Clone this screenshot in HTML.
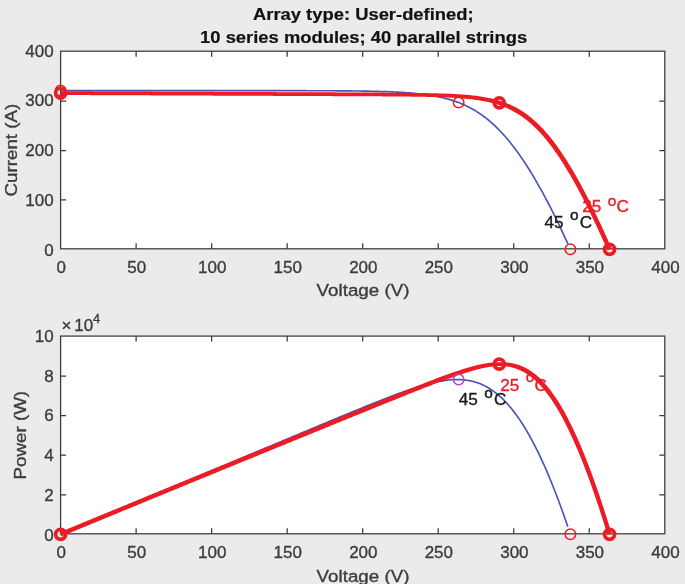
<!DOCTYPE html>
<html><head><meta charset="utf-8"><title>Array I-V and P-V characteristics</title>
<style>html,body{margin:0;padding:0;background:#ebebeb;}svg{display:block;font-family:"Liberation Sans",sans-serif;}text{stroke-width:0.35px;stroke-linejoin:round}.n{stroke:#3c3c3c}.b{stroke:#1a1a1a;stroke-width:0.2px}</style>
</head><body>
<svg width="685" height="584" viewBox="0 0 685 584">
<rect x="0" y="0" width="685" height="584" fill="#ebebeb"/>
<text class="b" transform="translate(363.30,19.70) scale(1.082,1)" font-size="17.0" text-anchor="middle" fill="#111" font-weight="bold">Array type: User-defined;</text>
<text class="b" transform="translate(363.60,42.90) scale(1.082,1)" font-size="17.0" text-anchor="middle" fill="#111" font-weight="bold">10 series modules; 40 parallel strings</text>
<rect x="60.6" y="51.2" width="604.20" height="197.60" fill="#fff" stroke="#3a3a3a" stroke-width="1.25"/>
<path d="M136.12,248.8v-5.5M136.12,51.2v5.5M211.65,248.8v-5.5M211.65,51.2v5.5M287.17,248.8v-5.5M287.17,51.2v5.5M362.70,248.8v-5.5M362.70,51.2v5.5M438.22,248.8v-5.5M438.22,51.2v5.5M513.75,248.8v-5.5M513.75,51.2v5.5M589.27,248.8v-5.5M589.27,51.2v5.5M60.6,199.90h5.5M664.8,199.90h-5.5M60.6,150.50h5.5M664.8,150.50h-5.5M60.6,101.10h5.5M664.8,101.10h-5.5" stroke="#3a3a3a" stroke-width="1.25" fill="none"/>
<text class="n" transform="translate(61.20,273.00) scale(1.02,1)" font-size="16.67" text-anchor="middle" fill="#3c3c3c">0</text>
<text class="n" transform="translate(136.72,273.00) scale(1.02,1)" font-size="16.67" text-anchor="middle" fill="#3c3c3c">50</text>
<text class="n" transform="translate(212.25,273.00) scale(1.02,1)" font-size="16.67" text-anchor="middle" fill="#3c3c3c">100</text>
<text class="n" transform="translate(287.77,273.00) scale(1.02,1)" font-size="16.67" text-anchor="middle" fill="#3c3c3c">150</text>
<text class="n" transform="translate(363.30,273.00) scale(1.02,1)" font-size="16.67" text-anchor="middle" fill="#3c3c3c">200</text>
<text class="n" transform="translate(438.82,273.00) scale(1.02,1)" font-size="16.67" text-anchor="middle" fill="#3c3c3c">250</text>
<text class="n" transform="translate(514.35,273.00) scale(1.02,1)" font-size="16.67" text-anchor="middle" fill="#3c3c3c">300</text>
<text class="n" transform="translate(589.88,273.00) scale(1.02,1)" font-size="16.67" text-anchor="middle" fill="#3c3c3c">350</text>
<text class="n" transform="translate(665.40,273.00) scale(1.02,1)" font-size="16.67" text-anchor="middle" fill="#3c3c3c">400</text>
<text class="n" transform="translate(53.70,255.60) scale(1.02,1)" font-size="16.67" text-anchor="end" fill="#3c3c3c">0</text>
<text class="n" transform="translate(53.70,206.20) scale(1.02,1)" font-size="16.67" text-anchor="end" fill="#3c3c3c">100</text>
<text class="n" transform="translate(53.70,156.10) scale(1.02,1)" font-size="16.67" text-anchor="end" fill="#3c3c3c">200</text>
<text class="n" transform="translate(53.70,106.10) scale(1.02,1)" font-size="16.67" text-anchor="end" fill="#3c3c3c">300</text>
<text class="n" transform="translate(53.70,57.00) scale(1.02,1)" font-size="16.67" text-anchor="end" fill="#3c3c3c">400</text>
<text class="n" transform="translate(363.00,296.30) scale(1.138,1)" font-size="16.5" text-anchor="middle" fill="#3c3c3c">Voltage (V)</text>
<text transform="translate(16.7,150.1) rotate(-90) scale(1.138,1)" class="n" font-size="16.5" text-anchor="middle" fill="#3c3c3c">Current (A)</text>
<path d="M60.60,90.54 L61.88,90.54 L63.16,90.54 L64.43,90.54 L65.71,90.54 L66.99,90.54 L68.27,90.54 L69.54,90.54 L70.82,90.54 L72.10,90.54 L73.38,90.54 L74.65,90.54 L75.93,90.55 L77.21,90.55 L78.49,90.55 L79.76,90.55 L81.04,90.55 L82.32,90.55 L83.60,90.55 L84.87,90.55 L86.15,90.55 L87.43,90.55 L88.71,90.55 L89.98,90.55 L91.26,90.55 L92.54,90.55 L93.82,90.55 L95.10,90.55 L96.37,90.55 L97.65,90.55 L98.93,90.56 L100.21,90.56 L101.48,90.56 L102.76,90.56 L104.04,90.56 L105.32,90.56 L106.59,90.56 L107.87,90.56 L109.15,90.56 L110.43,90.56 L111.70,90.56 L112.98,90.56 L114.26,90.56 L115.54,90.56 L116.81,90.56 L118.09,90.56 L119.37,90.56 L120.65,90.56 L121.93,90.56 L123.20,90.57 L124.48,90.57 L125.76,90.57 L127.04,90.57 L128.31,90.57 L129.59,90.57 L130.87,90.57 L132.15,90.57 L133.42,90.57 L134.70,90.57 L135.98,90.57 L137.26,90.57 L138.53,90.57 L139.81,90.57 L141.09,90.57 L142.37,90.57 L143.64,90.57 L144.92,90.57 L146.20,90.57 L147.48,90.58 L148.75,90.58 L150.03,90.58 L151.31,90.58 L152.59,90.58 L153.87,90.58 L155.14,90.58 L156.42,90.58 L157.70,90.58 L158.98,90.58 L160.25,90.58 L161.53,90.58 L162.81,90.58 L164.09,90.58 L165.36,90.58 L166.64,90.58 L167.92,90.58 L169.20,90.58 L170.47,90.59 L171.75,90.59 L173.03,90.59 L174.31,90.59 L175.58,90.59 L176.86,90.59 L178.14,90.59 L179.42,90.59 L180.70,90.59 L181.97,90.59 L183.25,90.59 L184.53,90.59 L185.81,90.59 L187.08,90.59 L188.36,90.59 L189.64,90.59 L190.92,90.59 L192.19,90.59 L193.47,90.60 L194.75,90.60 L196.03,90.60 L197.30,90.60 L198.58,90.60 L199.86,90.60 L201.14,90.60 L202.41,90.60 L203.69,90.60 L204.97,90.60 L206.25,90.60 L207.52,90.60 L208.80,90.60 L210.08,90.60 L211.36,90.60 L212.64,90.60 L213.91,90.60 L215.19,90.61 L216.47,90.61 L217.75,90.61 L219.02,90.61 L220.30,90.61 L221.58,90.61 L222.86,90.61 L224.13,90.61 L225.41,90.61 L226.69,90.61 L227.97,90.61 L229.24,90.61 L230.52,90.61 L231.80,90.61 L233.08,90.61 L234.35,90.62 L235.63,90.62 L236.91,90.62 L238.19,90.62 L239.47,90.62 L240.74,90.62 L242.02,90.62 L243.30,90.62 L244.58,90.62 L245.85,90.62 L247.13,90.62 L248.41,90.62 L249.69,90.62 L250.96,90.63 L252.24,90.63 L253.52,90.63 L254.80,90.63 L256.07,90.63 L257.35,90.63 L258.63,90.63 L259.91,90.63 L261.18,90.63 L262.46,90.63 L263.74,90.63 L265.02,90.64 L266.29,90.64 L267.57,90.64 L268.85,90.64 L270.13,90.64 L271.41,90.64 L272.68,90.64 L273.96,90.64 L275.24,90.65 L276.52,90.65 L277.79,90.65 L279.07,90.65 L280.35,90.65 L281.63,90.65 L282.90,90.65 L284.18,90.66 L285.46,90.66 L286.74,90.66 L288.01,90.66 L289.29,90.66 L290.57,90.67 L291.85,90.67 L293.12,90.67 L294.40,90.67 L295.68,90.67 L296.96,90.68 L298.23,90.68 L299.51,90.68 L300.79,90.68 L302.07,90.69 L303.35,90.69 L304.62,90.69 L305.90,90.69 L307.18,90.70 L308.46,90.70 L309.73,90.70 L311.01,90.71 L312.29,90.71 L313.57,90.71 L314.84,90.72 L316.12,90.72 L317.40,90.73 L318.68,90.73 L319.95,90.74 L321.23,90.74 L322.51,90.75 L323.79,90.75 L325.06,90.76 L326.34,90.76 L327.62,90.77 L328.90,90.77 L330.18,90.78 L331.45,90.79 L332.73,90.79 L334.01,90.80 L335.29,90.81 L336.56,90.82 L337.84,90.82 L339.12,90.83 L340.40,90.84 L341.67,90.85 L342.95,90.86 L344.23,90.87 L345.51,90.88 L346.78,90.89 L348.06,90.90 L349.34,90.92 L350.62,90.93 L351.89,90.94 L353.17,90.96 L354.45,90.97 L355.73,90.98 L357.00,91.00 L358.28,91.02 L359.56,91.03 L360.84,91.05 L362.12,91.07 L363.39,91.09 L364.67,91.11 L365.95,91.13 L367.23,91.16 L368.50,91.18 L369.78,91.20 L371.06,91.23 L372.34,91.26 L373.61,91.28 L374.89,91.31 L376.17,91.34 L377.45,91.38 L378.72,91.41 L380.00,91.45 L381.28,91.48 L382.56,91.52 L383.83,91.56 L385.11,91.60 L386.39,91.65 L387.67,91.69 L388.95,91.74 L390.22,91.79 L391.50,91.85 L392.78,91.90 L394.06,91.96 L395.33,92.02 L396.61,92.08 L397.89,92.15 L399.17,92.22 L400.44,92.29 L401.72,92.36 L403.00,92.44 L404.28,92.52 L405.55,92.61 L406.83,92.70 L408.11,92.79 L409.39,92.89 L410.66,93.00 L411.94,93.10 L413.22,93.21 L414.50,93.33 L415.77,93.45 L417.05,93.58 L418.33,93.71 L419.61,93.85 L420.89,94.00 L422.16,94.15 L423.44,94.31 L424.72,94.48 L426.00,94.65 L427.27,94.83 L428.55,95.02 L429.83,95.21 L431.11,95.42 L432.38,95.63 L433.66,95.85 L434.94,96.09 L436.22,96.33 L437.49,96.58 L438.77,96.84 L440.05,97.12 L441.33,97.40 L442.60,97.70 L443.88,98.01 L445.16,98.33 L446.44,98.66 L447.72,99.01 L448.99,99.38 L450.27,99.75 L451.55,100.14 L452.83,100.55 L454.10,100.97 L455.38,101.41 L456.66,101.87 L457.94,102.34 L459.21,102.84 L460.49,103.35 L461.77,103.88 L463.05,104.42 L464.32,104.99 L465.60,105.58 L466.88,106.19 L468.16,106.82 L469.43,107.48 L470.71,108.15 L471.99,108.85 L473.27,109.58 L474.54,110.32 L475.82,111.09 L477.10,111.89 L478.38,112.71 L479.66,113.56 L480.93,114.44 L482.21,115.34 L483.49,116.27 L484.77,117.22 L486.04,118.21 L487.32,119.22 L488.60,120.26 L489.88,121.33 L491.15,122.44 L492.43,123.57 L493.71,124.73 L494.99,125.92 L496.26,127.14 L497.54,128.39 L498.82,129.68 L500.10,130.99 L501.37,132.34 L502.65,133.72 L503.93,135.13 L505.21,136.57 L506.48,138.04 L507.76,139.55 L509.04,141.08 L510.32,142.65 L511.60,144.25 L512.87,145.89 L514.15,147.55 L515.43,149.25 L516.71,150.98 L517.98,152.74 L519.26,154.53 L520.54,156.35 L521.82,158.21 L523.09,160.09 L524.37,162.01 L525.65,163.95 L526.93,165.93 L528.20,167.94 L529.48,169.97 L530.76,172.04 L532.04,174.14 L533.31,176.27 L534.59,178.42 L535.87,180.60 L537.15,182.82 L538.43,185.06 L539.70,187.32 L540.98,189.62 L542.26,191.94 L543.54,194.29 L544.81,196.67 L546.09,199.07 L547.37,201.50 L548.65,203.96 L549.92,206.44 L551.20,208.94 L552.48,211.47 L553.76,214.03 L555.03,216.60 L556.31,219.21 L557.59,221.83 L558.87,224.48 L560.14,227.15 L561.42,229.84 L562.70,232.56 L563.98,235.30 L565.25,238.06 L566.53,240.84 L567.81,243.64" stroke="#4a54b6" stroke-width="1.65" fill="none" stroke-linejoin="round"/>
<path d="M60.59,95.00 L61.97,95.01 L63.34,95.01 L64.72,95.02 L66.10,95.03 L67.47,95.03 L68.85,95.04 L70.22,95.04 L71.60,95.05 L72.97,95.05 L74.35,95.06 L75.73,95.07 L77.10,95.07 L78.48,95.08 L79.85,95.08 L81.23,95.09 L82.61,95.09 L83.98,95.10 L85.36,95.10 L86.73,95.11 L88.11,95.12 L89.48,95.12 L90.86,95.13 L92.24,95.13 L93.61,95.14 L94.99,95.14 L96.36,95.15 L97.74,95.16 L99.12,95.16 L100.49,95.17 L101.87,95.17 L103.24,95.18 L104.62,95.18 L105.99,95.19 L107.37,95.20 L108.75,95.20 L110.12,95.21 L111.50,95.21 L112.87,95.22 L114.25,95.22 L115.63,95.23 L117.00,95.23 L118.38,95.24 L119.75,95.25 L121.13,95.25 L122.50,95.26 L123.88,95.26 L125.26,95.27 L126.63,95.27 L128.01,95.28 L129.38,95.29 L130.76,95.29 L132.14,95.30 L133.51,95.30 L134.89,95.31 L136.26,95.31 L137.64,95.32 L139.01,95.33 L140.39,95.33 L141.77,95.34 L143.14,95.34 L144.52,95.35 L145.89,95.35 L147.27,95.36 L148.65,95.36 L150.02,95.37 L151.40,95.38 L152.77,95.38 L154.15,95.39 L155.52,95.39 L156.90,95.40 L158.28,95.40 L159.65,95.41 L161.03,95.42 L162.40,95.42 L163.78,95.43 L165.16,95.43 L166.53,95.44 L167.91,95.44 L169.28,95.45 L170.66,95.46 L172.03,95.46 L173.41,95.47 L174.79,95.47 L176.16,95.48 L177.54,95.48 L178.91,95.49 L180.29,95.49 L181.67,95.50 L183.04,95.51 L184.42,95.51 L185.79,95.52 L187.17,95.52 L188.54,95.53 L189.92,95.53 L191.30,95.54 L192.67,95.55 L194.05,95.55 L195.42,95.56 L196.80,95.56 L198.18,95.57 L199.55,95.57 L200.93,95.58 L202.30,95.59 L203.68,95.59 L205.05,95.60 L206.43,95.60 L207.81,95.61 L209.18,95.61 L210.56,95.62 L211.93,95.62 L213.31,95.63 L214.69,95.64 L216.06,95.64 L217.44,95.65 L218.81,95.65 L220.19,95.66 L221.56,95.66 L222.94,95.67 L224.32,95.68 L225.69,95.68 L227.07,95.69 L228.44,95.69 L229.82,95.70 L231.19,95.70 L232.57,95.71 L233.95,95.72 L235.32,95.72 L236.70,95.73 L238.07,95.73 L239.45,95.74 L240.83,95.74 L242.20,95.75 L243.58,95.75 L244.95,95.76 L246.33,95.77 L247.70,95.77 L249.08,95.78 L250.46,95.78 L251.83,95.79 L253.21,95.79 L254.58,95.80 L255.96,95.81 L257.34,95.81 L258.71,95.82 L260.09,95.82 L261.46,95.83 L262.84,95.83 L264.21,95.84 L265.59,95.85 L266.97,95.85 L268.34,95.86 L269.72,95.86 L271.09,95.87 L272.47,95.87 L273.85,95.88 L275.22,95.89 L276.60,95.89 L277.97,95.90 L279.35,95.90 L280.72,95.91 L282.10,95.91 L283.48,95.92 L284.85,95.92 L286.23,95.93 L287.60,95.94 L288.98,95.94 L290.36,95.95 L291.73,95.95 L293.11,95.96 L294.48,95.96 L295.86,95.97 L297.23,95.98 L298.61,95.98 L299.99,95.99 L301.36,95.99 L302.74,96.00 L304.11,96.00 L305.49,96.01 L306.87,96.02 L308.24,96.02 L309.62,96.03 L310.99,96.03 L312.37,96.04 L313.74,96.05 L315.12,96.05 L316.50,96.06 L317.87,96.06 L319.25,96.07 L320.62,96.07 L322.00,96.08 L323.38,96.09 L324.75,96.09 L326.13,96.10 L327.50,96.10 L328.88,96.11 L330.25,96.12 L331.63,96.12 L333.01,96.13 L334.38,96.13 L335.76,96.14 L337.13,96.15 L338.51,96.15 L339.88,96.16 L341.26,96.16 L342.64,96.17 L344.01,96.18 L345.39,96.18 L346.76,96.19 L348.14,96.20 L349.52,96.20 L350.89,96.21 L352.27,96.22 L353.64,96.22 L355.02,96.23 L356.39,96.23 L357.77,96.24 L359.15,96.25 L360.52,96.26 L361.90,96.26 L363.27,96.27 L364.65,96.28 L366.02,96.28 L367.40,96.29 L368.78,96.30 L370.15,96.31 L371.53,96.31 L372.90,96.32 L374.28,96.33 L375.65,96.34 L377.03,96.34 L378.41,96.35 L379.78,96.36 L381.16,96.37 L382.53,96.38 L383.91,96.39 L385.28,96.40 L386.66,96.41 L388.03,96.42 L389.41,96.43 L390.78,96.44 L392.16,96.45 L393.54,96.46 L394.91,96.47 L396.29,96.48 L397.66,96.49 L399.04,96.50 L400.41,96.52 L401.79,96.53 L403.16,96.54 L404.54,96.56 L405.91,96.57 L407.29,96.59 L408.66,96.60 L410.04,96.62 L411.41,96.64 L412.79,96.65 L414.16,96.67 L415.54,96.69 L416.91,96.71 L418.29,96.73 L419.66,96.75 L421.04,96.78 L422.41,96.80 L423.78,96.83 L425.16,96.85 L426.53,96.88 L427.91,96.91 L429.28,96.94 L430.65,96.97 L432.03,97.00 L433.40,97.04 L434.77,97.08 L436.15,97.12 L437.52,97.16 L438.89,97.20 L440.27,97.25 L441.64,97.29 L443.01,97.34 L444.38,97.40 L445.75,97.45 L447.13,97.51 L448.50,97.57 L449.87,97.64 L451.24,97.71 L452.61,97.78 L453.98,97.86 L455.35,97.94 L456.72,98.03 L458.09,98.12 L459.46,98.22 L460.82,98.32 L462.19,98.42 L463.56,98.54 L464.92,98.66 L466.29,98.78 L467.66,98.92 L469.02,99.06 L470.38,99.21 L471.75,99.36 L473.11,99.53 L474.47,99.70 L475.83,99.89 L477.19,100.08 L478.55,100.29 L479.91,100.50 L481.27,100.73 L482.62,100.97 L483.98,101.22 L485.33,101.49 L486.69,101.77 L488.04,102.06 L489.39,102.37 L490.74,102.70 L492.09,103.04 L493.43,103.40 L494.78,103.78 L496.13,104.18 L497.47,104.59 L498.81,105.03 L500.15,105.49 L501.50,105.97 L502.84,106.47 L504.17,107.00 L505.51,107.55 L506.85,108.12 L508.19,108.72 L509.52,109.35 L510.86,110.01 L512.19,110.69 L513.53,111.41 L514.86,112.15 L516.20,112.93 L517.54,113.73 L518.87,114.57 L520.21,115.45 L521.55,116.36 L522.89,117.30 L524.22,118.28 L525.56,119.30 L526.91,120.35 L528.25,121.44 L529.59,122.57 L530.94,123.74 L532.28,124.95 L533.63,126.20 L534.98,127.49 L536.33,128.83 L537.68,130.20 L539.03,131.62 L540.39,133.07 L541.74,134.57 L543.10,136.11 L544.45,137.70 L545.81,139.32 L547.17,140.99 L548.53,142.70 L549.89,144.45 L551.26,146.25 L552.62,148.08 L553.98,149.96 L555.35,151.88 L556.71,153.83 L558.08,155.83 L559.45,157.87 L560.81,159.95 L562.18,162.06 L563.55,164.22 L564.92,166.41 L566.29,168.64 L567.66,170.91 L569.03,173.21 L570.40,175.55 L571.77,177.92 L573.14,180.33 L574.51,182.78 L575.89,185.25 L577.26,187.76 L578.63,190.31 L580.00,192.88 L581.38,195.49 L582.75,198.12 L584.12,200.79 L585.50,203.48 L586.87,206.21 L588.24,208.96 L589.62,211.75 L590.99,214.55 L592.36,217.39 L593.74,220.25 L595.11,223.14 L596.49,226.05 L597.86,228.99 L599.24,231.96 L600.61,234.94 L601.99,237.95 L603.36,240.98 L604.74,244.04 L606.11,247.12 L607.49,250.22 L611.63,248.38 L610.25,245.28 L608.87,242.19 L607.50,239.12 L606.12,236.07 L604.74,233.05 L603.36,230.05 L601.99,227.07 L600.61,224.12 L599.23,221.19 L597.86,218.29 L596.48,215.41 L595.10,212.56 L593.72,209.73 L592.35,206.93 L590.97,204.16 L589.59,201.41 L588.21,198.70 L586.83,196.01 L585.45,193.35 L584.08,190.73 L582.70,188.13 L581.32,185.56 L579.94,183.03 L578.56,180.53 L577.18,178.06 L575.80,175.62 L574.42,173.22 L573.04,170.85 L571.65,168.52 L570.27,166.22 L568.89,163.96 L567.51,161.73 L566.12,159.54 L564.74,157.39 L563.36,155.28 L561.97,153.20 L560.59,151.17 L559.20,149.17 L557.81,147.21 L556.43,145.29 L555.04,143.41 L553.65,141.58 L552.26,139.78 L550.87,138.02 L549.47,136.31 L548.08,134.63 L546.69,133.00 L545.29,131.41 L543.89,129.86 L542.50,128.35 L541.10,126.89 L539.70,125.46 L538.29,124.08 L536.89,122.74 L535.49,121.44 L534.08,120.18 L532.67,118.96 L531.27,117.78 L529.86,116.64 L528.45,115.55 L527.04,114.49 L525.62,113.46 L524.21,112.48 L522.80,111.54 L521.38,110.63 L519.97,109.75 L518.55,108.92 L517.13,108.11 L515.72,107.34 L514.30,106.61 L512.89,105.90 L511.47,105.23 L510.05,104.59 L508.64,103.97 L507.22,103.39 L505.81,102.83 L504.40,102.30 L502.99,101.80 L501.58,101.32 L500.17,100.86 L498.76,100.43 L497.35,100.01 L495.94,99.62 L494.54,99.25 L493.13,98.90 L491.73,98.56 L490.33,98.25 L488.93,97.95 L487.53,97.66 L486.13,97.39 L484.73,97.14 L483.34,96.90 L481.94,96.67 L480.55,96.45 L479.15,96.25 L477.76,96.05 L476.37,95.87 L474.98,95.70 L473.59,95.53 L472.20,95.38 L470.81,95.23 L469.42,95.09 L468.04,94.96 L466.65,94.84 L465.26,94.72 L463.88,94.61 L462.49,94.51 L461.11,94.41 L459.73,94.31 L458.34,94.22 L456.96,94.14 L455.58,94.06 L454.19,93.98 L452.81,93.91 L451.43,93.85 L450.05,93.78 L448.67,93.72 L447.29,93.66 L445.91,93.61 L444.53,93.56 L443.15,93.51 L441.77,93.46 L440.39,93.42 L439.01,93.38 L437.63,93.34 L436.25,93.30 L434.88,93.26 L433.50,93.23 L432.12,93.20 L430.74,93.17 L429.36,93.14 L427.99,93.11 L426.61,93.08 L425.23,93.06 L423.85,93.03 L422.48,93.01 L421.10,92.99 L419.72,92.97 L418.34,92.95 L416.97,92.93 L415.59,92.91 L414.21,92.89 L412.84,92.87 L411.46,92.86 L410.08,92.84 L408.71,92.83 L407.33,92.81 L405.95,92.80 L404.58,92.78 L403.20,92.77 L401.82,92.76 L400.45,92.75 L399.07,92.73 L397.69,92.72 L396.32,92.71 L394.94,92.70 L393.57,92.69 L392.19,92.68 L390.81,92.67 L389.44,92.66 L388.06,92.65 L386.68,92.64 L385.31,92.63 L383.93,92.62 L382.56,92.61 L381.18,92.61 L379.80,92.60 L378.43,92.59 L377.05,92.58 L375.68,92.57 L374.30,92.57 L372.92,92.56 L371.55,92.55 L370.17,92.54 L368.80,92.54 L367.42,92.53 L366.04,92.52 L364.67,92.51 L363.29,92.51 L361.92,92.50 L360.54,92.49 L359.16,92.49 L357.79,92.48 L356.41,92.47 L355.04,92.47 L353.66,92.46 L352.28,92.45 L350.91,92.45 L349.53,92.44 L348.16,92.43 L346.78,92.43 L345.40,92.42 L344.03,92.42 L342.65,92.41 L341.28,92.40 L339.90,92.40 L338.53,92.39 L337.15,92.39 L335.77,92.38 L334.40,92.37 L333.02,92.37 L331.65,92.36 L330.27,92.36 L328.89,92.35 L327.52,92.34 L326.14,92.34 L324.77,92.33 L323.39,92.33 L322.02,92.32 L320.64,92.31 L319.26,92.31 L317.89,92.30 L316.51,92.30 L315.14,92.29 L313.76,92.29 L312.38,92.28 L311.01,92.27 L309.63,92.27 L308.26,92.26 L306.88,92.26 L305.51,92.25 L304.13,92.24 L302.75,92.24 L301.38,92.23 L300.00,92.23 L298.63,92.22 L297.25,92.22 L295.87,92.21 L294.50,92.20 L293.12,92.20 L291.75,92.19 L290.37,92.19 L289.00,92.18 L287.62,92.18 L286.24,92.17 L284.87,92.16 L283.49,92.16 L282.12,92.15 L280.74,92.15 L279.36,92.14 L277.99,92.14 L276.61,92.13 L275.24,92.12 L273.86,92.12 L272.49,92.11 L271.11,92.11 L269.73,92.10 L268.36,92.10 L266.98,92.09 L265.61,92.09 L264.23,92.08 L262.85,92.07 L261.48,92.07 L260.10,92.06 L258.73,92.06 L257.35,92.05 L255.98,92.05 L254.60,92.04 L253.22,92.03 L251.85,92.03 L250.47,92.02 L249.10,92.02 L247.72,92.01 L246.34,92.01 L244.97,92.00 L243.59,91.99 L242.22,91.99 L240.84,91.98 L239.47,91.98 L238.09,91.97 L236.71,91.97 L235.34,91.96 L233.96,91.96 L232.59,91.95 L231.21,91.94 L229.83,91.94 L228.46,91.93 L227.08,91.93 L225.71,91.92 L224.33,91.92 L222.96,91.91 L221.58,91.90 L220.20,91.90 L218.83,91.89 L217.45,91.89 L216.08,91.88 L214.70,91.88 L213.32,91.87 L211.95,91.86 L210.57,91.86 L209.20,91.85 L207.82,91.85 L206.45,91.84 L205.07,91.84 L203.69,91.83 L202.32,91.83 L200.94,91.82 L199.57,91.81 L198.19,91.81 L196.81,91.80 L195.44,91.80 L194.06,91.79 L192.69,91.79 L191.31,91.78 L189.94,91.77 L188.56,91.77 L187.18,91.76 L185.81,91.76 L184.43,91.75 L183.06,91.75 L181.68,91.74 L180.30,91.73 L178.93,91.73 L177.55,91.72 L176.18,91.72 L174.80,91.71 L173.43,91.71 L172.05,91.70 L170.67,91.70 L169.30,91.69 L167.92,91.68 L166.55,91.68 L165.17,91.67 L163.79,91.67 L162.42,91.66 L161.04,91.66 L159.67,91.65 L158.29,91.64 L156.92,91.64 L155.54,91.63 L154.16,91.63 L152.79,91.62 L151.41,91.62 L150.04,91.61 L148.66,91.60 L147.28,91.60 L145.91,91.59 L144.53,91.59 L143.16,91.58 L141.78,91.58 L140.41,91.57 L139.03,91.57 L137.65,91.56 L136.28,91.55 L134.90,91.55 L133.53,91.54 L132.15,91.54 L130.77,91.53 L129.40,91.53 L128.02,91.52 L126.65,91.51 L125.27,91.51 L123.90,91.50 L122.52,91.50 L121.14,91.49 L119.77,91.49 L118.39,91.48 L117.02,91.47 L115.64,91.47 L114.27,91.46 L112.89,91.46 L111.51,91.45 L110.14,91.45 L108.76,91.44 L107.39,91.44 L106.01,91.43 L104.63,91.42 L103.26,91.42 L101.88,91.41 L100.51,91.41 L99.13,91.40 L97.76,91.40 L96.38,91.39 L95.00,91.38 L93.63,91.38 L92.25,91.37 L90.88,91.37 L89.50,91.36 L88.12,91.36 L86.75,91.35 L85.37,91.34 L84.00,91.34 L82.62,91.33 L81.25,91.33 L79.87,91.32 L78.49,91.32 L77.12,91.31 L75.74,91.31 L74.37,91.30 L72.99,91.29 L71.61,91.29 L70.24,91.28 L68.86,91.28 L67.49,91.27 L66.11,91.27 L64.74,91.26 L63.36,91.25 L61.98,91.25 L60.61,91.24Z" fill="#ec1c24"/>
<circle cx="60.60" cy="90.54" r="5.25" stroke="#ec1c24" stroke-width="1.5" fill="none"/>
<circle cx="458.62" cy="102.61" r="5.25" stroke="#ec1c24" stroke-width="1.5" fill="none"/>
<circle cx="570.37" cy="249.30" r="5.25" stroke="#ec1c24" stroke-width="1.5" fill="none"/>
<circle cx="60.60" cy="93.12" r="5.0" stroke="#ec1c24" stroke-width="3.7" fill="none"/>
<circle cx="499.25" cy="102.87" r="5.0" stroke="#ec1c24" stroke-width="3.7" fill="none"/>
<circle cx="609.56" cy="249.30" r="5.0" stroke="#ec1c24" stroke-width="3.7" fill="none"/>
<text transform="translate(544.50,228.00) scale(1.03,1)" font-size="16.67" fill="#1a1a1a" stroke="#1a1a1a">45 <tspan font-size="15" dx="1.7" dy="-7.7" stroke-width="0.4">o</tspan><tspan dx="1" dy="7.7">C</tspan></text>
<text transform="translate(582.20,211.70) scale(1.03,1)" font-size="16.67" fill="#ec1c24" stroke="#ec1c24">25 <tspan font-size="15" dx="1.7" dy="-6.2" stroke-width="0.4">o</tspan><tspan dx="0" dy="6.2">C</tspan></text>
<rect x="60.6" y="336.1" width="604.20" height="197.70" fill="#fff" stroke="#3a3a3a" stroke-width="1.25"/>
<path d="M136.12,533.8v-5.5M136.12,336.1v5.5M211.65,533.8v-5.5M211.65,336.1v5.5M287.17,533.8v-5.5M287.17,336.1v5.5M362.70,533.8v-5.5M362.70,336.1v5.5M438.22,533.8v-5.5M438.22,336.1v5.5M513.75,533.8v-5.5M513.75,336.1v5.5M589.27,533.8v-5.5M589.27,336.1v5.5M60.6,494.76h5.5M664.8,494.76h-5.5M60.6,455.22h5.5M664.8,455.22h-5.5M60.6,415.68h5.5M664.8,415.68h-5.5M60.6,376.14h5.5M664.8,376.14h-5.5" stroke="#3a3a3a" stroke-width="1.25" fill="none"/>
<text class="n" transform="translate(61.20,558.00) scale(1.02,1)" font-size="16.67" text-anchor="middle" fill="#3c3c3c">0</text>
<text class="n" transform="translate(136.72,558.00) scale(1.02,1)" font-size="16.67" text-anchor="middle" fill="#3c3c3c">50</text>
<text class="n" transform="translate(212.25,558.00) scale(1.02,1)" font-size="16.67" text-anchor="middle" fill="#3c3c3c">100</text>
<text class="n" transform="translate(287.77,558.00) scale(1.02,1)" font-size="16.67" text-anchor="middle" fill="#3c3c3c">150</text>
<text class="n" transform="translate(363.30,558.00) scale(1.02,1)" font-size="16.67" text-anchor="middle" fill="#3c3c3c">200</text>
<text class="n" transform="translate(438.82,558.00) scale(1.02,1)" font-size="16.67" text-anchor="middle" fill="#3c3c3c">250</text>
<text class="n" transform="translate(514.35,558.00) scale(1.02,1)" font-size="16.67" text-anchor="middle" fill="#3c3c3c">300</text>
<text class="n" transform="translate(589.88,558.00) scale(1.02,1)" font-size="16.67" text-anchor="middle" fill="#3c3c3c">350</text>
<text class="n" transform="translate(665.40,558.00) scale(1.02,1)" font-size="16.67" text-anchor="middle" fill="#3c3c3c">400</text>
<text class="n" transform="translate(53.60,540.80) scale(1.02,1)" font-size="16.67" text-anchor="end" fill="#3c3c3c">0</text>
<text class="n" transform="translate(53.60,500.86) scale(1.02,1)" font-size="16.67" text-anchor="end" fill="#3c3c3c">2</text>
<text class="n" transform="translate(53.60,460.82) scale(1.02,1)" font-size="16.67" text-anchor="end" fill="#3c3c3c">4</text>
<text class="n" transform="translate(53.60,420.78) scale(1.02,1)" font-size="16.67" text-anchor="end" fill="#3c3c3c">6</text>
<text class="n" transform="translate(53.60,381.54) scale(1.02,1)" font-size="16.67" text-anchor="end" fill="#3c3c3c">8</text>
<text class="n" transform="translate(53.60,341.70) scale(1.02,1)" font-size="16.67" text-anchor="end" fill="#3c3c3c">10</text>
<text class="n" transform="translate(363.00,582.30) scale(1.138,1)" font-size="16.5" text-anchor="middle" fill="#3c3c3c">Voltage (V)</text>
<text transform="translate(26.2,435.2) rotate(-90) scale(1.138,1)" class="n" font-size="16.5" text-anchor="middle" fill="#3c3c3c">Power (W)</text>
<path d="M60.60,534.30 L61.88,533.76 L63.16,533.23 L64.43,532.69 L65.71,532.15 L66.99,531.61 L68.27,531.08 L69.54,530.54 L70.82,530.00 L72.10,529.46 L73.38,528.93 L74.65,528.39 L75.93,527.85 L77.21,527.31 L78.49,526.78 L79.76,526.24 L81.04,525.70 L82.32,525.16 L83.60,524.63 L84.87,524.09 L86.15,523.55 L87.43,523.02 L88.71,522.48 L89.98,521.94 L91.26,521.40 L92.54,520.87 L93.82,520.33 L95.10,519.79 L96.37,519.25 L97.65,518.72 L98.93,518.18 L100.21,517.64 L101.48,517.10 L102.76,516.57 L104.04,516.03 L105.32,515.49 L106.59,514.96 L107.87,514.42 L109.15,513.88 L110.43,513.34 L111.70,512.81 L112.98,512.27 L114.26,511.73 L115.54,511.20 L116.81,510.66 L118.09,510.12 L119.37,509.58 L120.65,509.05 L121.93,508.51 L123.20,507.97 L124.48,507.43 L125.76,506.90 L127.04,506.36 L128.31,505.82 L129.59,505.29 L130.87,504.75 L132.15,504.21 L133.42,503.67 L134.70,503.14 L135.98,502.60 L137.26,502.06 L138.53,501.53 L139.81,500.99 L141.09,500.45 L142.37,499.91 L143.64,499.38 L144.92,498.84 L146.20,498.30 L147.48,497.76 L148.75,497.23 L150.03,496.69 L151.31,496.15 L152.59,495.62 L153.87,495.08 L155.14,494.54 L156.42,494.00 L157.70,493.47 L158.98,492.93 L160.25,492.39 L161.53,491.86 L162.81,491.32 L164.09,490.78 L165.36,490.25 L166.64,489.71 L167.92,489.17 L169.20,488.63 L170.47,488.10 L171.75,487.56 L173.03,487.02 L174.31,486.49 L175.58,485.95 L176.86,485.41 L178.14,484.87 L179.42,484.34 L180.70,483.80 L181.97,483.26 L183.25,482.73 L184.53,482.19 L185.81,481.65 L187.08,481.11 L188.36,480.58 L189.64,480.04 L190.92,479.50 L192.19,478.97 L193.47,478.43 L194.75,477.89 L196.03,477.36 L197.30,476.82 L198.58,476.28 L199.86,475.74 L201.14,475.21 L202.41,474.67 L203.69,474.13 L204.97,473.60 L206.25,473.06 L207.52,472.52 L208.80,471.99 L210.08,471.45 L211.36,470.91 L212.64,470.38 L213.91,469.84 L215.19,469.30 L216.47,468.76 L217.75,468.23 L219.02,467.69 L220.30,467.15 L221.58,466.62 L222.86,466.08 L224.13,465.54 L225.41,465.01 L226.69,464.47 L227.97,463.93 L229.24,463.40 L230.52,462.86 L231.80,462.32 L233.08,461.79 L234.35,461.25 L235.63,460.71 L236.91,460.17 L238.19,459.64 L239.47,459.10 L240.74,458.56 L242.02,458.03 L243.30,457.49 L244.58,456.95 L245.85,456.42 L247.13,455.88 L248.41,455.34 L249.69,454.81 L250.96,454.27 L252.24,453.73 L253.52,453.20 L254.80,452.66 L256.07,452.12 L257.35,451.59 L258.63,451.05 L259.91,450.51 L261.18,449.98 L262.46,449.44 L263.74,448.90 L265.02,448.37 L266.29,447.83 L267.57,447.30 L268.85,446.76 L270.13,446.22 L271.41,445.69 L272.68,445.15 L273.96,444.61 L275.24,444.08 L276.52,443.54 L277.79,443.00 L279.07,442.47 L280.35,441.93 L281.63,441.40 L282.90,440.86 L284.18,440.32 L285.46,439.79 L286.74,439.25 L288.01,438.72 L289.29,438.18 L290.57,437.64 L291.85,437.11 L293.12,436.57 L294.40,436.04 L295.68,435.50 L296.96,434.97 L298.23,434.43 L299.51,433.90 L300.79,433.36 L302.07,432.82 L303.35,432.29 L304.62,431.75 L305.90,431.22 L307.18,430.68 L308.46,430.15 L309.73,429.62 L311.01,429.08 L312.29,428.55 L313.57,428.01 L314.84,427.48 L316.12,426.94 L317.40,426.41 L318.68,425.88 L319.95,425.34 L321.23,424.81 L322.51,424.28 L323.79,423.74 L325.06,423.21 L326.34,422.68 L327.62,422.14 L328.90,421.61 L330.18,421.08 L331.45,420.55 L332.73,420.02 L334.01,419.48 L335.29,418.95 L336.56,418.42 L337.84,417.89 L339.12,417.36 L340.40,416.83 L341.67,416.30 L342.95,415.77 L344.23,415.25 L345.51,414.72 L346.78,414.19 L348.06,413.66 L349.34,413.14 L350.62,412.61 L351.89,412.08 L353.17,411.56 L354.45,411.03 L355.73,410.51 L357.00,409.98 L358.28,409.46 L359.56,408.94 L360.84,408.42 L362.12,407.90 L363.39,407.38 L364.67,406.86 L365.95,406.34 L367.23,405.82 L368.50,405.31 L369.78,404.79 L371.06,404.28 L372.34,403.77 L373.61,403.25 L374.89,402.74 L376.17,402.24 L377.45,401.73 L378.72,401.22 L380.00,400.72 L381.28,400.21 L382.56,399.71 L383.83,399.21 L385.11,398.72 L386.39,398.22 L387.67,397.73 L388.95,397.23 L390.22,396.74 L391.50,396.26 L392.78,395.77 L394.06,395.29 L395.33,394.81 L396.61,394.34 L397.89,393.86 L399.17,393.39 L400.44,392.93 L401.72,392.46 L403.00,392.00 L404.28,391.55 L405.55,391.09 L406.83,390.65 L408.11,390.20 L409.39,389.76 L410.66,389.33 L411.94,388.90 L413.22,388.48 L414.50,388.06 L415.77,387.64 L417.05,387.24 L418.33,386.84 L419.61,386.44 L420.89,386.06 L422.16,385.68 L423.44,385.30 L424.72,384.94 L426.00,384.58 L427.27,384.23 L428.55,383.89 L429.83,383.56 L431.11,383.24 L432.38,382.93 L433.66,382.63 L434.94,382.34 L436.22,382.06 L437.49,381.80 L438.77,381.54 L440.05,381.30 L441.33,381.08 L442.60,380.86 L443.88,380.66 L445.16,380.48 L446.44,380.31 L447.72,380.16 L448.99,380.02 L450.27,379.90 L451.55,379.80 L452.83,379.72 L454.10,379.66 L455.38,379.62 L456.66,379.60 L457.94,379.60 L459.21,379.62 L460.49,379.66 L461.77,379.73 L463.05,379.82 L464.32,379.94 L465.60,380.08 L466.88,380.25 L468.16,380.45 L469.43,380.68 L470.71,380.93 L471.99,381.22 L473.27,381.53 L474.54,381.88 L475.82,382.26 L477.10,382.67 L478.38,383.11 L479.66,383.59 L480.93,384.11 L482.21,384.66 L483.49,385.25 L484.77,385.87 L486.04,386.53 L487.32,387.23 L488.60,387.98 L489.88,388.76 L491.15,389.58 L492.43,390.44 L493.71,391.35 L494.99,392.30 L496.26,393.29 L497.54,394.33 L498.82,395.41 L500.10,396.54 L501.37,397.71 L502.65,398.93 L503.93,400.19 L505.21,401.50 L506.48,402.86 L507.76,404.27 L509.04,405.72 L510.32,407.23 L511.60,408.78 L512.87,410.38 L514.15,412.03 L515.43,413.73 L516.71,415.48 L517.98,417.28 L519.26,419.13 L520.54,421.03 L521.82,422.98 L523.09,424.99 L524.37,427.04 L525.65,429.14 L526.93,431.29 L528.20,433.50 L529.48,435.76 L530.76,438.06 L532.04,440.42 L533.31,442.83 L534.59,445.29 L535.87,447.80 L537.15,450.36 L538.43,452.97 L539.70,455.63 L540.98,458.34 L542.26,461.11 L543.54,463.92 L544.81,466.78 L546.09,469.69 L547.37,472.66 L548.65,475.67 L549.92,478.73 L551.20,481.84 L552.48,485.00 L553.76,488.21 L555.03,491.47 L556.31,494.77 L557.59,498.13 L558.87,501.53 L560.14,504.98 L561.42,508.48 L562.70,512.03 L563.98,515.62 L565.25,519.27 L566.53,522.95 L567.81,526.69" stroke="#4a54b6" stroke-width="1.65" fill="none" stroke-linejoin="round"/>
<path d="M61.46,536.38 L62.84,535.81 L64.21,535.24 L65.59,534.67 L66.96,534.10 L68.34,533.53 L69.71,532.96 L71.09,532.39 L72.47,531.82 L73.84,531.26 L75.22,530.69 L76.59,530.12 L77.97,529.55 L79.34,528.98 L80.72,528.41 L82.10,527.84 L83.47,527.27 L84.85,526.71 L86.22,526.14 L87.60,525.57 L88.98,525.00 L90.35,524.43 L91.73,523.86 L93.10,523.29 L94.48,522.73 L95.85,522.16 L97.23,521.59 L98.61,521.02 L99.98,520.45 L101.36,519.89 L102.73,519.32 L104.11,518.75 L105.48,518.18 L106.86,517.61 L108.24,517.05 L109.61,516.48 L110.99,515.91 L112.36,515.34 L113.74,514.77 L115.11,514.21 L116.49,513.64 L117.87,513.07 L119.24,512.50 L120.62,511.94 L121.99,511.37 L123.37,510.80 L124.75,510.23 L126.12,509.67 L127.50,509.10 L128.87,508.53 L130.25,507.96 L131.62,507.40 L133.00,506.83 L134.38,506.26 L135.75,505.70 L137.13,505.13 L138.50,504.56 L139.88,503.99 L141.25,503.43 L142.63,502.86 L144.01,502.29 L145.38,501.73 L146.76,501.16 L148.13,500.59 L149.51,500.03 L150.88,499.46 L152.26,498.89 L153.64,498.33 L155.01,497.76 L156.39,497.19 L157.76,496.63 L159.14,496.06 L160.52,495.50 L161.89,494.93 L163.27,494.36 L164.64,493.80 L166.02,493.23 L167.39,492.66 L168.77,492.10 L170.15,491.53 L171.52,490.97 L172.90,490.40 L174.27,489.83 L175.65,489.27 L177.02,488.70 L178.40,488.14 L179.78,487.57 L181.15,487.01 L182.53,486.44 L183.90,485.87 L185.28,485.31 L186.65,484.74 L188.03,484.18 L189.41,483.61 L190.78,483.05 L192.16,482.48 L193.53,481.92 L194.91,481.35 L196.28,480.78 L197.66,480.22 L199.04,479.65 L200.41,479.09 L201.79,478.52 L203.16,477.96 L204.54,477.39 L205.92,476.83 L207.29,476.26 L208.67,475.70 L210.04,475.13 L211.42,474.57 L212.79,474.00 L214.17,473.44 L215.55,472.88 L216.92,472.31 L218.30,471.75 L219.67,471.18 L221.05,470.62 L222.42,470.05 L223.80,469.49 L225.18,468.92 L226.55,468.36 L227.93,467.79 L229.30,467.23 L230.68,466.67 L232.05,466.10 L233.43,465.54 L234.81,464.97 L236.18,464.41 L237.56,463.85 L238.93,463.28 L240.31,462.72 L241.69,462.15 L243.06,461.59 L244.44,461.03 L245.81,460.46 L247.19,459.90 L248.56,459.33 L249.94,458.77 L251.32,458.21 L252.69,457.64 L254.07,457.08 L255.44,456.52 L256.82,455.95 L258.19,455.39 L259.57,454.83 L260.95,454.26 L262.32,453.70 L263.70,453.14 L265.07,452.57 L266.45,452.01 L267.82,451.45 L269.20,450.88 L270.58,450.32 L271.95,449.76 L273.33,449.20 L274.70,448.63 L276.08,448.07 L277.46,447.51 L278.83,446.94 L280.21,446.38 L281.58,445.82 L282.96,445.26 L284.33,444.69 L285.71,444.13 L287.09,443.57 L288.46,443.01 L289.84,442.44 L291.21,441.88 L292.59,441.32 L293.96,440.76 L295.34,440.19 L296.72,439.63 L298.09,439.07 L299.47,438.51 L300.84,437.95 L302.22,437.38 L303.59,436.82 L304.97,436.26 L306.35,435.70 L307.72,435.14 L309.10,434.57 L310.47,434.01 L311.85,433.45 L313.23,432.89 L314.60,432.33 L315.98,431.77 L317.35,431.20 L318.73,430.64 L320.10,430.08 L321.48,429.52 L322.86,428.96 L324.23,428.40 L325.61,427.84 L326.98,427.27 L328.36,426.71 L329.73,426.15 L331.11,425.59 L332.49,425.03 L333.86,424.47 L335.24,423.91 L336.61,423.35 L337.99,422.79 L339.36,422.23 L340.74,421.67 L342.12,421.11 L343.49,420.54 L344.87,419.98 L346.24,419.42 L347.62,418.86 L348.99,418.30 L350.37,417.74 L351.75,417.18 L353.12,416.62 L354.50,416.06 L355.87,415.50 L357.25,414.94 L358.62,414.39 L360.00,413.83 L361.38,413.27 L362.75,412.71 L364.13,412.15 L365.50,411.59 L366.88,411.03 L368.25,410.47 L369.63,409.91 L371.01,409.35 L372.38,408.80 L373.76,408.24 L375.13,407.68 L376.51,407.12 L377.88,406.56 L379.26,406.01 L380.63,405.45 L382.01,404.89 L383.39,404.33 L384.76,403.78 L386.14,403.22 L387.51,402.67 L388.89,402.11 L390.26,401.55 L391.64,401.00 L393.01,400.44 L394.39,399.89 L395.76,399.33 L397.14,398.78 L398.51,398.23 L399.89,397.67 L401.26,397.12 L402.64,396.57 L404.02,396.02 L405.39,395.47 L406.77,394.92 L408.14,394.37 L409.52,393.82 L410.89,393.27 L412.26,392.72 L413.64,392.17 L415.01,391.62 L416.39,391.08 L417.76,390.53 L419.14,389.99 L420.51,389.45 L421.89,388.91 L423.26,388.36 L424.63,387.83 L426.01,387.29 L427.38,386.75 L428.76,386.22 L430.13,385.68 L431.50,385.15 L432.88,384.62 L434.25,384.09 L435.62,383.56 L436.99,383.04 L438.37,382.52 L439.74,382.00 L441.11,381.48 L442.48,380.97 L443.85,380.45 L445.22,379.94 L446.60,379.44 L447.97,378.94 L449.34,378.44 L450.71,377.94 L452.08,377.45 L453.44,376.97 L454.81,376.48 L456.18,376.01 L457.55,375.54 L458.92,375.07 L460.28,374.61 L461.65,374.15 L463.01,373.71 L464.38,373.27 L465.74,372.83 L467.11,372.41 L468.47,371.99 L469.83,371.58 L471.19,371.18 L472.55,370.79 L473.91,370.41 L475.27,370.04 L476.63,369.68 L477.98,369.33 L479.34,369.00 L480.69,368.68 L482.04,368.37 L483.40,368.08 L484.74,367.80 L486.09,367.54 L487.44,367.30 L488.79,367.07 L490.13,366.86 L491.47,366.67 L492.82,366.51 L494.16,366.36 L495.50,366.23 L496.84,366.13 L498.17,366.05 L499.51,366.00 L500.84,366.00 L502.18,366.06 L503.51,366.14 L504.83,366.26 L506.16,366.41 L507.48,366.60 L508.80,366.81 L510.11,367.07 L511.43,367.36 L512.74,367.69 L514.05,368.06 L515.35,368.47 L516.66,368.92 L517.97,369.41 L519.27,369.95 L520.58,370.53 L521.88,371.15 L523.19,371.83 L524.50,372.55 L525.81,373.33 L527.12,374.16 L528.43,375.04 L529.75,375.97 L531.07,376.97 L532.39,378.01 L533.72,379.12 L535.05,380.29 L536.38,381.52 L537.71,382.81 L539.05,384.16 L540.39,385.58 L541.74,387.06 L543.08,388.61 L544.43,390.22 L545.78,391.90 L547.14,393.65 L548.49,395.46 L549.85,397.34 L551.21,399.29 L552.57,401.31 L553.93,403.39 L555.29,405.55 L556.65,407.77 L558.02,410.06 L559.39,412.41 L560.75,414.84 L562.12,417.33 L563.49,419.89 L564.86,422.51 L566.23,425.20 L567.60,427.96 L568.97,430.79 L570.35,433.68 L571.72,436.63 L573.09,439.65 L574.46,442.74 L575.84,445.89 L577.21,449.10 L578.59,452.37 L579.96,455.71 L581.33,459.11 L582.71,462.57 L584.08,466.10 L585.46,469.68 L586.83,473.33 L588.21,477.03 L589.59,480.79 L590.96,484.62 L592.34,488.50 L593.71,492.44 L595.09,496.44 L596.46,500.49 L597.84,504.60 L599.22,508.77 L600.59,512.99 L601.97,517.27 L603.34,521.61 L604.72,525.99 L606.10,530.44 L607.47,534.94 L611.64,533.66 L610.26,529.16 L608.89,524.70 L607.51,520.29 L606.14,515.94 L604.76,511.65 L603.39,507.41 L602.01,503.22 L600.63,499.09 L599.26,495.01 L597.88,491.00 L596.51,487.04 L595.13,483.13 L593.75,479.29 L592.38,475.50 L591.00,471.77 L589.63,468.10 L588.25,464.49 L586.87,460.94 L585.50,457.45 L584.12,454.02 L582.74,450.65 L581.36,447.35 L579.99,444.10 L578.61,440.92 L577.23,437.80 L575.85,434.74 L574.47,431.75 L573.09,428.82 L571.71,425.95 L570.33,423.15 L568.95,420.41 L567.57,417.74 L566.18,415.14 L564.80,412.59 L563.42,410.12 L562.03,407.71 L560.64,405.36 L559.26,403.08 L557.87,400.87 L556.48,398.72 L555.09,396.64 L553.69,394.63 L552.30,392.68 L550.90,390.79 L549.50,388.98 L548.10,387.22 L546.70,385.53 L545.29,383.91 L543.89,382.35 L542.48,380.86 L541.06,379.43 L539.65,378.06 L538.23,376.75 L536.80,375.51 L535.38,374.33 L533.95,373.21 L532.52,372.15 L531.08,371.16 L529.64,370.22 L528.20,369.34 L526.76,368.52 L525.32,367.75 L523.87,367.04 L522.43,366.39 L520.98,365.79 L519.54,365.24 L518.09,364.75 L516.64,364.30 L515.20,363.90 L513.76,363.55 L512.32,363.25 L510.88,362.98 L509.44,362.76 L508.01,362.58 L506.58,362.44 L505.15,362.34 L503.73,362.27 L502.30,362.23 L500.89,362.23 L499.47,362.23 L498.05,362.23 L496.64,362.27 L495.23,362.33 L493.81,362.42 L492.40,362.54 L490.99,362.68 L489.59,362.84 L488.18,363.03 L486.77,363.24 L485.37,363.47 L483.97,363.71 L482.56,363.98 L481.16,364.26 L479.76,364.56 L478.37,364.87 L476.97,365.20 L475.57,365.54 L474.18,365.89 L472.79,366.25 L471.39,366.63 L470.00,367.02 L468.61,367.42 L467.22,367.82 L465.83,368.24 L464.44,368.66 L463.06,369.10 L461.67,369.54 L460.28,369.98 L458.90,370.44 L457.51,370.90 L456.13,371.37 L454.74,371.84 L453.36,372.31 L451.98,372.80 L450.59,373.28 L449.21,373.77 L447.83,374.27 L446.45,374.77 L445.07,375.27 L443.69,375.78 L442.31,376.29 L440.93,376.80 L439.55,377.31 L438.17,377.83 L436.79,378.35 L435.41,378.87 L434.03,379.40 L432.65,379.92 L431.27,380.45 L429.89,380.98 L428.52,381.52 L427.14,382.05 L425.76,382.59 L424.38,383.12 L423.00,383.66 L421.63,384.20 L420.25,384.74 L418.87,385.29 L417.49,385.83 L416.12,386.37 L414.74,386.92 L413.36,387.46 L411.98,388.01 L410.61,388.56 L409.23,389.11 L407.85,389.65 L406.48,390.20 L405.10,390.75 L403.72,391.31 L402.35,391.86 L400.97,392.41 L399.59,392.96 L398.22,393.51 L396.84,394.07 L395.46,394.62 L394.09,395.18 L392.71,395.73 L391.34,396.28 L389.96,396.84 L388.58,397.40 L387.21,397.95 L385.83,398.51 L384.45,399.06 L383.08,399.62 L381.70,400.18 L380.33,400.73 L378.95,401.29 L377.57,401.85 L376.20,402.41 L374.82,402.96 L373.45,403.52 L372.07,404.08 L370.69,404.64 L369.32,405.20 L367.94,405.75 L366.57,406.31 L365.19,406.87 L363.81,407.43 L362.44,407.99 L361.06,408.55 L359.69,409.11 L358.31,409.67 L356.93,410.23 L355.56,410.79 L354.18,411.35 L352.81,411.91 L351.43,412.47 L350.05,413.03 L348.68,413.59 L347.30,414.15 L345.93,414.71 L344.55,415.27 L343.17,415.83 L341.80,416.39 L340.42,416.95 L339.05,417.51 L337.67,418.07 L336.29,418.63 L334.92,419.19 L333.54,419.75 L332.17,420.31 L330.79,420.87 L329.41,421.43 L328.04,421.99 L326.66,422.56 L325.29,423.12 L323.91,423.68 L322.54,424.24 L321.16,424.80 L319.78,425.36 L318.41,425.92 L317.03,426.48 L315.66,427.05 L314.28,427.61 L312.90,428.17 L311.53,428.73 L310.15,429.29 L308.78,429.85 L307.40,430.42 L306.02,430.98 L304.65,431.54 L303.27,432.10 L301.90,432.66 L300.52,433.23 L299.14,433.79 L297.77,434.35 L296.39,434.91 L295.02,435.47 L293.64,436.04 L292.27,436.60 L290.89,437.16 L289.51,437.72 L288.14,438.29 L286.76,438.85 L285.39,439.41 L284.01,439.97 L282.63,440.54 L281.26,441.10 L279.88,441.66 L278.51,442.22 L277.13,442.79 L275.75,443.35 L274.38,443.91 L273.00,444.48 L271.63,445.04 L270.25,445.60 L268.88,446.16 L267.50,446.73 L266.12,447.29 L264.75,447.85 L263.37,448.42 L262.00,448.98 L260.62,449.54 L259.24,450.11 L257.87,450.67 L256.49,451.23 L255.12,451.80 L253.74,452.36 L252.36,452.92 L250.99,453.49 L249.61,454.05 L248.24,454.61 L246.86,455.18 L245.49,455.74 L244.11,456.31 L242.73,456.87 L241.36,457.43 L239.98,458.00 L238.61,458.56 L237.23,459.12 L235.85,459.69 L234.48,460.25 L233.10,460.82 L231.73,461.38 L230.35,461.95 L228.97,462.51 L227.60,463.07 L226.22,463.64 L224.85,464.20 L223.47,464.77 L222.10,465.33 L220.72,465.90 L219.34,466.46 L217.97,467.02 L216.59,467.59 L215.22,468.15 L213.84,468.72 L212.46,469.28 L211.09,469.85 L209.71,470.41 L208.34,470.98 L206.96,471.54 L205.58,472.11 L204.21,472.67 L202.83,473.24 L201.46,473.80 L200.08,474.37 L198.71,474.93 L197.33,475.50 L195.95,476.06 L194.58,476.63 L193.20,477.19 L191.83,477.76 L190.45,478.32 L189.07,478.89 L187.70,479.46 L186.32,480.02 L184.95,480.59 L183.57,481.15 L182.19,481.72 L180.82,482.28 L179.44,482.85 L178.07,483.41 L176.69,483.98 L175.31,484.55 L173.94,485.11 L172.56,485.68 L171.19,486.24 L169.81,486.81 L168.44,487.38 L167.06,487.94 L165.68,488.51 L164.31,489.07 L162.93,489.64 L161.56,490.21 L160.18,490.77 L158.80,491.34 L157.43,491.91 L156.05,492.47 L154.68,493.04 L153.30,493.60 L151.92,494.17 L150.55,494.74 L149.17,495.30 L147.80,495.87 L146.42,496.44 L145.05,497.00 L143.67,497.57 L142.29,498.14 L140.92,498.71 L139.54,499.27 L138.17,499.84 L136.79,500.41 L135.41,500.97 L134.04,501.54 L132.66,502.11 L131.29,502.67 L129.91,503.24 L128.53,503.81 L127.16,504.38 L125.78,504.94 L124.41,505.51 L123.03,506.08 L121.66,506.65 L120.28,507.21 L118.90,507.78 L117.53,508.35 L116.15,508.92 L114.78,509.48 L113.40,510.05 L112.02,510.62 L110.65,511.19 L109.27,511.75 L107.90,512.32 L106.52,512.89 L105.14,513.46 L103.77,514.03 L102.39,514.59 L101.02,515.16 L99.64,515.73 L98.27,516.30 L96.89,516.87 L95.51,517.43 L94.14,518.00 L92.76,518.57 L91.39,519.14 L90.01,519.71 L88.63,520.28 L87.26,520.84 L85.88,521.41 L84.51,521.98 L83.13,522.55 L81.75,523.12 L80.38,523.69 L79.00,524.26 L77.63,524.82 L76.25,525.39 L74.88,525.96 L73.50,526.53 L72.12,527.10 L70.75,527.67 L69.37,528.24 L68.00,528.81 L66.62,529.38 L65.24,529.95 L63.87,530.51 L62.49,531.08 L61.12,531.65 L59.74,532.22Z" fill="#ec1c24"/>
<circle cx="60.60" cy="534.30" r="5.25" stroke="#ec1c24" stroke-width="1.5" fill="none"/>
<circle cx="458.62" cy="379.61" r="5.25" stroke="#c040c0" stroke-width="1.5" fill="none"/>
<circle cx="570.37" cy="534.30" r="5.25" stroke="#ec1c24" stroke-width="1.5" fill="none"/>
<circle cx="60.60" cy="534.30" r="5.0" stroke="#ec1c24" stroke-width="3.7" fill="none"/>
<circle cx="499.25" cy="364.12" r="5.0" stroke="#ec1c24" stroke-width="3.7" fill="none"/>
<circle cx="609.56" cy="534.30" r="5.0" stroke="#ec1c24" stroke-width="3.7" fill="none"/>
<text transform="translate(458.70,405.40) scale(1.03,1)" font-size="16.67" fill="#1a1a1a" stroke="#1a1a1a">45 <tspan font-size="15" dx="1.7" dy="-7.7" stroke-width="0.4">o</tspan><tspan dx="1" dy="7.7">C</tspan></text>
<text transform="translate(500.20,390.80) scale(1.03,1)" font-size="16.67" fill="#ec1c24" stroke="#ec1c24">25 <tspan font-size="15" dx="1.7" dy="-9.3" stroke-width="0.4">o</tspan><tspan dx="0" dy="9.3">C</tspan></text>
<text transform="translate(61.6,331.3) scale(1.02,1)" class="n" font-size="16.67" fill="#3c3c3c">×<tspan dx="2.6">10</tspan><tspan font-size="12.5" dy="-8.6">4</tspan></text>
</svg>
</body></html>
